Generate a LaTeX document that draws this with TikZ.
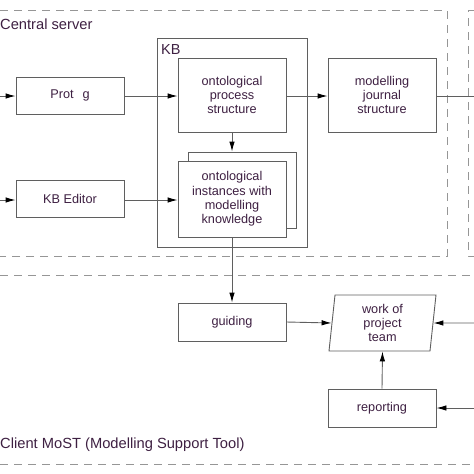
\documentclass[tikz,border=0pt]{standalone}
\usepackage{fontspec}
\setmainfont{Liberation Sans}
\usetikzlibrary{arrows.meta,shapes.geometric}
\definecolor{txt}{RGB}{62,32,66}
\definecolor{ln}{RGB}{95,95,95}
\definecolor{dsh}{RGB}{150,150,150}
\tikzset{
  box/.style={draw=ln, line width=0.9pt, fill=white, minimum width=108pt, inner sep=0pt,
    text=txt, align=center, font=\fontsize{12.7}{14.3}\selectfont},
  arr/.style={draw=ln, line width=0.9pt, -{Latex[length=10pt,width=5.5pt,fill=black,color=black]}},
  plain/.style={draw=ln, line width=0.9pt},
  region/.style={draw=dsh, line width=0.9pt, dash pattern=on 8pt off 6pt},
  big/.style={text=txt, font=\fontsize{14.7}{16}\selectfont, inner sep=0pt, anchor=west},
}
\begin{document}
\begin{tikzpicture}[x=1pt,y=-1pt]
\useasboundingbox (0,0) rectangle (474,474);
% regions
\draw[region] (0,10) -- (447,10) -- (447,256) -- (0,256);
\draw[region] (474,10) -- (468,10) -- (468,256) -- (474,256);
\draw[region] (0,275) -- (474,275);
\draw[region] (0,464) -- (474,464);
\node[big] (cs) at (0,24) {Central server};
\node[big] (cl) at (0,445) {Client MoST (Modelling Support Tool)};
% KB
\node[draw=ln, line width=0.9pt, minimum width=150pt, minimum height=209pt, inner sep=0pt] (kb) at (232,142.5) {};
\node[big, font=\fontsize{14.5}{16}\selectfont] (kbl) at (161,50) {KB};
\node[box, minimum height=74pt] (proc) at (232,95) {ontological\\process\\structure};
\node[box, minimum height=76pt] (shadow) at (242.5,190) {};
\node[box, minimum height=76pt] (inst) at (232,199) {ontological\\instances with\\modelling\\knowledge};
\node[box, minimum height=37pt] (prot) at (70,95.5) {Prot\hspace{9pt}g};
\node[box, minimum height=37pt] (kbe) at (70,198.5) {KB Editor};
\node[box, minimum height=74pt] (jour) at (382,95) {modelling\\journal\\structure};
\node[box, minimum height=38pt] (guid) at (232,322) {guiding};
\node[box, trapezium, trapezium left angle=81, trapezium right angle=99, trapezium stretches body,
  minimum width=107pt, minimum height=56pt] (work) at (382.5,323) {work of\\project\\team};
\node[box, minimum height=38pt] (rep) at (382,408) {reporting};
% free ends
\coordinate (l1) at (0,96);
\coordinate (l2) at (0,200);
\coordinate (r1) at (474,96);
\coordinate (r2) at (474,323);
\coordinate (r3) at (474,408);
% connectors
\draw[arr] (l1) -- (prot.west |- l1);
\draw[arr] (l2) -- (kbe.west |- l2);
\draw[arr] (prot.east |- l1) -- (proc.west |- l1);
\draw[arr] (kbe.east |- l2) -- (inst.west |- l2);
\draw[arr] (proc.east |- l1) -- (jour.west |- l1);
\draw[plain] (jour.east |- l1) -- (r1);
\draw[arr] (proc.south) -- (shadow.north -| proc.south);
\draw[arr] (inst.south) -- (guid.north);
\draw[arr] (guid.east) -- (work.west);
\draw[arr] (r2) -- (work.east);
\draw[arr] (rep.north) -- (work.south);
\draw[arr] (r3) -- (rep.east);
\end{tikzpicture}
\end{document}
